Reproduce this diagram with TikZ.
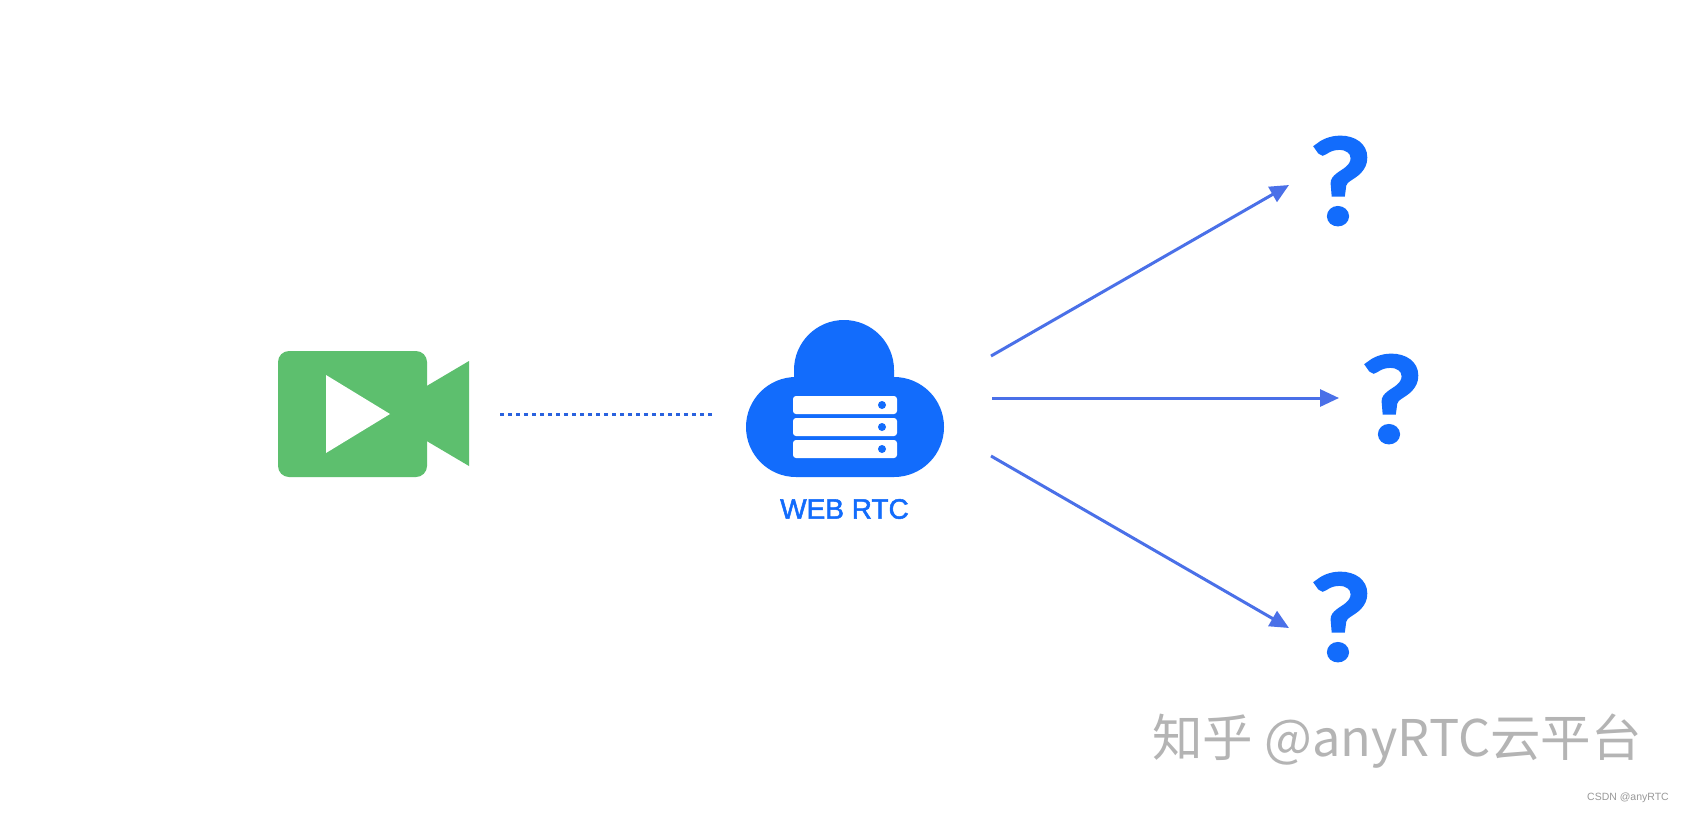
\documentclass[tikz,border=0pt]{standalone}
\usepackage{fontspec}
\setmainfont{Liberation Sans}
\newfontfamily\cjkfont{Noto Sans CJK SC}
\newfontfamily\queryfont[FakeBold=5,FakeStretch=1.12]{Lato}
\newfontfamily\labelfont[FakeBold=1.8]{Liberation Sans}
\usetikzlibrary{arrows.meta}
\definecolor{camgreen}{HTML}{5DBF6E}
\definecolor{cloudblue}{HTML}{126CFC}
\definecolor{arrowblue}{HTML}{4A70E8}
\definecolor{dotblue}{HTML}{2A62DE}
\definecolor{markgray}{HTML}{B4B4B4}
\tikzset{camerabody/.style={shape=rectangle,fill=camgreen,rounded corners=11pt,minimum width=149pt,minimum height=126pt,inner sep=0pt}}
\tikzset{serverbar/.style={shape=rectangle,fill=white,rounded corners=3pt,minimum width=104pt,minimum height=18pt,inner sep=0pt}}
\tikzset{serverdot/.style={shape=circle,fill=cloudblue,minimum size=8pt,inner sep=0pt}}
\tikzset{query/.style={text=cloudblue,font=\queryfont\fontsize{116}{116}\selectfont,inner sep=0pt}}
\tikzset{outarrow/.style={draw=arrowblue,line width=3pt,-{Triangle[length=19pt,width=17pt]}}}
\begin{document}
\begin{tikzpicture}[x=1pt,y=-1pt]
            \fill[white] (0,0) rectangle (1683,814);
            \useasboundingbox (0,0) rectangle (1683,814);
            % camera
            \node[camerabody] (camera) at (352.5,414) {};
            \fill[camgreen] (425,387) -- (469,361) -- (469,466) -- (425,440) -- cycle;
            \fill[white] (326,375) -- (390,414) -- (326,453) -- cycle;
            % cloud
            \fill[cloudblue] (844,370) circle (50) (796,427) circle (50) (894,427) circle (50);
            \fill[cloudblue] (794,370) rectangle (894,440) (796,420) rectangle (894,477);
            \foreach \y in {405,427,449}
            {
                \node[serverbar] (bar\y) at (845,\y) {};
                \node[serverdot] (dot\y) at (882,\y) {};
            }
            \node[text=cloudblue,font=\labelfont\fontsize{28}{28}\selectfont,inner sep=0pt] (webrtc) at (844.5,509) {WEB RTC};
            % setup the end points
            \coordinate (dotstart) at (500,414.5);
            \coordinate (dotend) at (713,414.5);
            \foreach \myname/\x/\y in {a/991/356,b/992/398,c/991/456}
            {
                \coordinate (from\myname) at (\x,\y);
            }
            \foreach \myname/\x/\y in {a/1289/185,b/1339/398,c/1289/628}
            {
                \coordinate (to\myname) at (\x,\y);
            }
            % question marks
            \foreach \myname/\x/\y in {a/1341/181,b/1392/399,c/1341/617}
            {
                \node[query] (q\myname) at (\x,\y) {?};
            }
            % connectors
            \draw[dotblue,line width=3pt,dash pattern=on 4pt off 4pt] (dotstart) -- (dotend);
            \foreach \myname in {a,b,c}
            {
                \draw[outarrow] (from\myname) -- (to\myname);
            }
            % marks
            \node[text=markgray,font=\cjkfont\fontsize{50.5}{50.5}\selectfont,inner sep=0pt,anchor=west] (zhihu) at (1152,741) {知乎 @anyRTC云平台};
            \node[text=gray!80,font=\fontsize{10.5}{10.5}\selectfont,inner sep=0pt,anchor=east] (csdn) at (1669,798) {CSDN @anyRTC};
        \end{tikzpicture}
\end{document}
